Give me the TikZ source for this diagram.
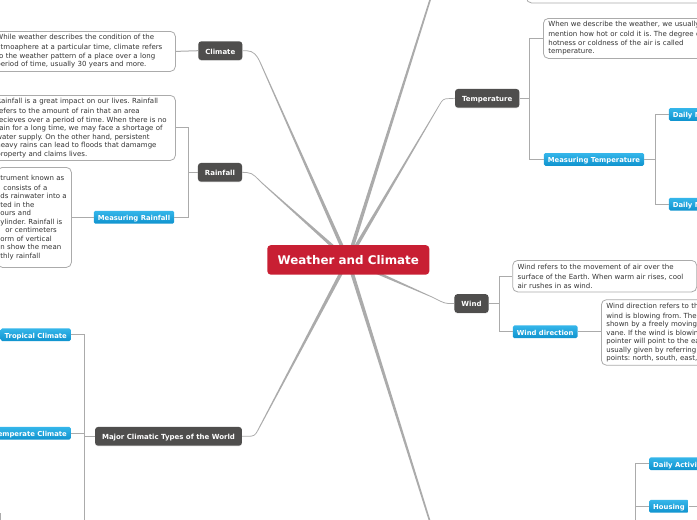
\documentclass[tikz,border=0pt]{standalone}
\usepackage{fontspec}
\usepackage{xcolor}
\setmainfont{DejaVu Sans}
\usetikzlibrary{calc,shadows}

\begin{document}
\begin{tikzpicture}[x=1pt,y=-1pt,
  hubnode/.style={fill=hubred,text=white,rounded corners=3.5pt,minimum width=162,minimum height=29.5,inner sep=0,font=\fontsize{11.9}{13}\selectfont\bfseries},
  topicnode/.style={fill=topicgray,text=white,rounded corners=3pt,minimum height=18.7,inner ysep=0,inner xsep=7,text height=6.6,text depth=0,font=\fontsize{7}{8}\selectfont\bfseries,drop shadow={opacity=.2,shadow xshift=0pt,shadow yshift=-.8pt}},
  subnode/.style={top color=subtop,bottom color=subbot,text=white,rounded corners=1.5pt,minimum height=12.8,inner ysep=0,inner xsep=4,text height=6.6,text depth=0,font=\fontsize{6.85}{8}\selectfont\bfseries},
  textbox/.style={draw=linegray,line width=.8,fill=white,text=inkgray,rounded corners=5,anchor=north west,align=left,inner xsep=5,inner ysep=0,font=\fontsize{7}{8.5}\selectfont\frenchspacing,execute at begin node={\vspace*{1.5pt}}},
  link/.style={draw=linegray,line width=1}]
\definecolor{hubred}{HTML}{C81F33}
\definecolor{topicgray}{HTML}{4F4E4D}
\definecolor{subtop}{HTML}{35B6EA}
\definecolor{subbot}{HTML}{0F93CE}
\definecolor{linegray}{HTML}{ABABAB}
\definecolor{inkgray}{HTML}{333333}
\useasboundingbox (0,0) rectangle (697,520);
\clip (0,0) rectangle (697,520);

% spokes out of the centre
\coordinate (hubc) at (348,260);
\coordinate (kneeclimate) at (260,62);
\coordinate (kneerainfall) at (262,183);
\coordinate (kneetemperature) at (440,104);
\coordinate (kneewind) at (432,297);
\coordinate (kneemajor) at (258,430);
\coordinate (topend) at (431,-3);
\coordinate (bottomend) at (431,525);
\foreach \far/\wid in {kneeclimate/.45,kneerainfall/.45,kneetemperature/.35,kneewind/.4,kneemajor/.45,topend/.8,bottomend/.8}
{ \fill[linegray] ($(hubc)!1.9pt!90:(\far)$) -- ($(\far)!\wid pt!-90:(hubc)$) -- ($(\far)!\wid pt!90:(hubc)$) -- ($(hubc)!1.9pt!-90:(\far)$) -- cycle;}

\node [hubnode] (hub) at (348.3,259.9) {Weather and Climate};

% topics
\node [topicnode] (climate) at (220.3,50.7) {Climate};
\node [topicnode] (rainfall) at (220,172.3) {Rainfall};
\node [topicnode] (temperature) at (487.2,98.3) {Temperature};
\node [topicnode] (wind) at (471.5,303.5) {Wind};
\node [topicnode] (majortypes) at (168.5,436.3) {Major Climatic Types of the World};

% blue ones
\node [subnode] (measrain) at (134,217.2) {Measuring Rainfall};
\node [subnode] (meastemp) at (594,159.4) {Measuring Temperature};
\node [subnode,anchor=west] (dailyone) at (668.7,114.4) {Daily M};
\node [subnode,anchor=west] (dailytwo) at (668.7,204.2) {Daily M};
\node [subnode] (winddir) at (545.2,331.8) {Wind direction};
\node [subnode,anchor=east] (tropical) at (71,334.7) {Tropical Climate};
\node [subnode,anchor=east] (temperate) at (71,433.2) {Temperate Climate};
\node [subnode,anchor=west] (activities) at (649,463.7) {Daily Activities};
\node [subnode,anchor=west] (housing) at (649,506.3) {Housing};

% text boxes
\node [textbox,minimum height=40,text width=174] (climatetext) at (-9,31) {While weather describes the condition of the\\atmoaphere at a particular time, climate refers\\to the weather pattern of a place over a long\\period of time, usually 30 years and more.};
\node [textbox,minimum height=65,text width=174] (rainfalltext) at (-9,95) {Rainfall is a great impact on our lives. Rainfall\\refers to the amount of rain that an area\\recieves over a period of time. When there is no\\rain for a long time, we may face a shortage of\\water supply. On the other hand, persistent\\heavy rains can lead to floods that damamge\\property and claims lives.};
\node [textbox,minimum height=100,text width=68,inner xsep=3] (measraintext) at (-3,167) {trument known as\\\hspace*{3pt}consists of a\\ds rainwater into a\\ted in the\\ours and\\ylinder. Rainfall is\\\hspace*{5pt}or centimeters\\orm of vertical\\n show the mean\\thly rainfall};
\node [textbox,minimum height=40,text width=190] (temptext) at (543,18) {When we describe the weather, we usually\\mention how hot or cold it is. The degree of\\hotness or coldness of the air is called\\temperature.};
\node [textbox,minimum height=31.5,text width=174] (windtext) at (512.3,260) {Wind refers to the movement of air over the\\surface of the Earth. When warm air rises, cool\\air rushes in as wind.};
\node [textbox,minimum height=65.5,text width=150] (winddirtext) at (601,299.3) {Wind direction refers to the\\wind is blowing from. The\\shown by a freely moving\\vane. If the wind is blowing\\pointer will point to the east\\usually given by referring\\points: north, south, east,};
\node [textbox,minimum height=40,text width=200] (toptext) at (526,-37.5) {};

% bends into the spokes
\draw[link,line width=.8] (climate.east) -- ++(4,0) .. controls +(7,0) and ($(kneeclimate)!-7pt!(hubc)$) .. (kneeclimate);
\draw[link,line width=.8] (rainfall.east) -- ++(5,.3) .. controls +(6,0) and ($(kneerainfall)!-6pt!(hubc)$) .. (kneerainfall);
\draw[link,line width=.7] (temperature.west) -- ++(-6,.3) .. controls +(-5,0) and ($(kneetemperature)!-5pt!(hubc)$) .. (kneetemperature);
\draw[link,line width=.8] (wind.west) -- ++(-6,0) .. controls +(-5,0) and ($(kneewind)!-5pt!(hubc)$) .. (kneewind);
\draw[link,line width=.8] (majortypes.east) -- ++(6,0) .. controls +(6,0) and ($(kneemajor)!-6pt!(hubc)$) .. (kneemajor);

% branches
\draw[link] (climate.west) -- (climatetext.east);
\draw[link] (rainfall.west) -- ++(-9.5,0) |- (rainfalltext.east);
\draw[link] (rainfall.west) -- ++(-9.5,0) |- (measrain.east);
\draw[link] (measrain.west) -- (measrain.west -| measraintext.east);
\draw[link] (temperature.east) -- ++(10,0) |- (temptext.west);
\draw[link] (temperature.east) -- ++(10,0) |- (meastemp.west);
\draw[link] (meastemp.east) -- ++(10.7,0) |- (dailyone.west);
\draw[link] (meastemp.east) -- ++(10.7,0) |- (dailytwo.west);
\draw[link] (wind.east) -- ++(10.7,0) |- (windtext.west);
\draw[link] (wind.east) -- ++(10.7,0) |- (winddir.west);
\draw[link] (winddir.east) -- (winddir.east -| winddirtext.west);
\draw[link] (majortypes.west) -- ++(-10,0) |- (tropical.east);
\draw[link] (majortypes.west) -- ++(-10,0) |- (temperate.east);
\coordinate (majorend) at ($(majortypes.west)+(-10,90)$);
\draw[link] (majortypes.west) -- ++(-10,0) -- (majorend);
\coordinate (weartop) at (635.7,463.7);
\coordinate (wearend) at (635.7,524);
\draw[link] (activities.west) -- (weartop) -- (wearend);
\draw[link] (housing.west) -- (housing.west -| wearend);
\coordinate (housingend) at (700,506.3);
\draw[link] (housing.east) -- (housingend);
\coordinate (tickup) at (0.5,513);
\coordinate (tickdown) at (0.5,524);
\draw[link] (tickup) -- (tickdown);
\end{tikzpicture}
\end{document}
